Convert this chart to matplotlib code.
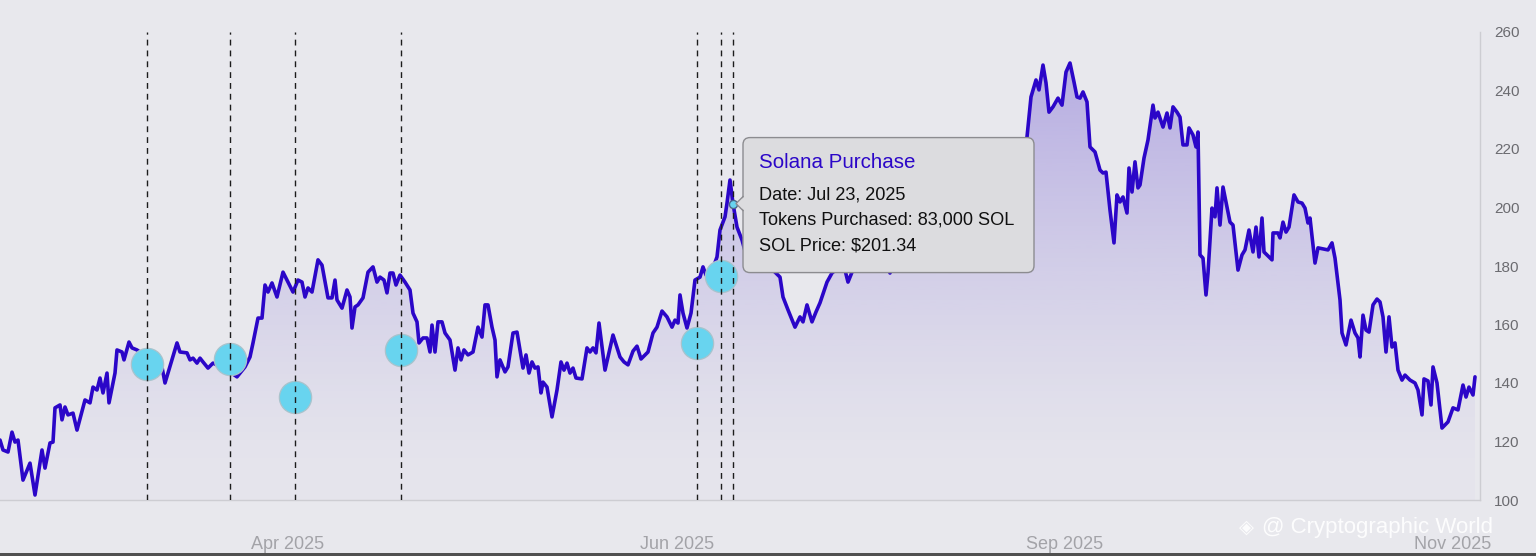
import numpy as np
import matplotlib
matplotlib.use("Agg")
import matplotlib.pyplot as plt
from matplotlib.patches import Polygon, FancyBboxPatch, Rectangle
from matplotlib.lines import Line2D
from matplotlib.transforms import Affine2D

# ---------------- data ----------------
# time position along the x axis (relative units) and SOL price (USD)
t = [0, 3, 8, 12, 15, 18, 23, 30, 35, 42, 45, 50, 53, 55, 60, 62, 65, 68, 73, 77,
     85, 90, 93, 97, 100, 103, 107, 109, 115, 117, 122, 124, 129, 132, 137, 140, 147, 155, 161, 165,
     177, 180, 187, 190, 193, 197, 200, 203, 208, 213, 217, 222, 230, 237, 245, 250, 253, 258, 262, 265,
     268, 272, 277, 283, 288, 293, 298, 302, 305, 308, 312, 318, 322, 328, 332, 335, 337, 342, 347, 350,
     352, 355, 358, 363, 368, 373, 377, 380, 384, 387, 390, 393, 396, 400, 405, 410, 413, 417, 419, 423,
     427, 430, 432, 435, 438, 442, 445, 450, 455, 458, 461, 464, 468, 473, 478, 482, 485, 488, 492, 495,
     497, 500, 505, 508, 513, 517, 523, 526, 529, 532, 535, 538, 541, 543, 547, 552, 557, 561, 564, 567,
     570, 573, 576, 582, 587, 590, 593, 596, 599, 605, 613, 620, 624, 628, 633, 637, 641, 645, 648, 653,
     657, 662, 667, 672, 675, 678, 680, 683, 687, 691, 695, 700, 703, 706, 710, 713, 717, 720, 725, 727,
     730, 733, 737, 742, 748, 755, 760, 765, 770, 775, 780, 783, 788, 795, 800, 803, 807, 812, 816, 820,
     827, 832, 838, 845, 848, 852, 858, 865, 872, 878, 884, 890, 895, 900, 906, 912, 918, 924, 930, 936,
     942, 948, 954, 960, 966, 972, 978, 984, 990, 996, 1002, 1008, 1014, 1020, 1027, 1031, 1036, 1039, 1043, 1046,
     1049, 1053, 1058, 1062, 1066, 1070, 1074, 1077, 1080, 1083, 1087, 1090, 1095, 1100, 1103, 1106, 1110, 1114, 1117, 1120,
     1123, 1127, 1129, 1132, 1135, 1138, 1140, 1144, 1148, 1153, 1155, 1158, 1163, 1167, 1170, 1173, 1177, 1180, 1183, 1187,
     1189, 1193, 1196, 1198, 1200, 1203, 1206, 1208, 1212, 1215, 1217, 1220, 1223, 1227, 1230, 1233, 1238, 1242, 1245, 1249,
     1253, 1256, 1259, 1262, 1264, 1272, 1273, 1278, 1280, 1283, 1286, 1289, 1294, 1298, 1302, 1305, 1308, 1310, 1315, 1318,
     1328, 1332, 1335, 1340, 1342, 1346, 1351, 1355, 1358, 1360, 1363, 1366, 1369, 1373, 1377, 1380, 1383, 1386, 1389, 1392,
     1395, 1398, 1402, 1405, 1410, 1415, 1418, 1422, 1424, 1428, 1431, 1433, 1437, 1442, 1448, 1453, 1458, 1463, 1466, 1469,
     1473, 1475]
price = [120.5, 117.1, 116.4, 123.2, 119.8, 120.5, 106.8, 112.6, 101.7, 117.1, 110.9, 119.5, 119.8, 131.5, 132.5, 127.4, 131.8, 129.1, 129.7, 123.9,
         134.2, 133.2, 138.6, 137.6, 141.7, 136.6, 143.4, 133.2, 143.4, 151.3, 150.6, 147.9, 154.0, 152.0, 151.3, 150.6, 147.9, 147.2, 147.2, 140.0,
         153.7, 150.6, 150.3, 147.9, 148.5, 146.8, 148.5, 147.2, 145.1, 146.8, 146.2, 144.4, 143.8, 142.1, 145.5, 148.9, 153.7, 162.2, 162.2, 173.5,
         171.1, 174.2, 169.4, 177.9, 174.5, 171.1, 175.2, 174.5, 169.4, 172.5, 171.1, 182.1, 180.3, 169.1, 169.1, 175.2, 168.4, 165.6, 171.8, 169.4,
         158.8, 166.0, 166.7, 169.1, 177.9, 179.7, 174.5, 176.2, 175.2, 170.8, 177.6, 177.6, 173.5, 176.9, 174.5, 171.8, 163.9, 160.9, 153.7, 155.4,
         155.4, 150.6, 159.8, 150.6, 160.9, 160.9, 157.1, 154.7, 144.4, 152.0, 147.9, 151.3, 149.6, 150.6, 159.1, 155.7, 166.7, 166.7, 159.1, 154.7,
         142.1, 147.9, 143.8, 145.5, 157.1, 157.4, 145.1, 149.6, 143.4, 147.2, 145.1, 145.5, 136.6, 140.3, 138.6, 128.4, 137.6, 147.2, 144.4, 146.8,
         143.4, 145.1, 141.7, 141.4, 152.0, 150.6, 152.0, 150.3, 160.5, 144.4, 156.4, 148.9, 147.2, 146.2, 150.9, 152.6, 148.2, 149.6, 150.6, 157.1,
         159.1, 164.6, 162.6, 159.1, 161.5, 160.5, 170.1, 163.9, 158.8, 163.9, 175.2, 176.2, 179.7, 176.9, 178.6, 179.3, 183.1, 192.3, 196.8, 201.5,
         209.4, 201.34, 193.3, 188.9, 181.4, 182.7, 180.0, 181.4, 179.3, 177.9, 176.2, 169.4, 165.0, 159.1, 162.6, 160.9, 166.7, 160.9, 164.3, 167.4,
         174.5, 177.6, 179.3, 178.6, 174.5, 177.9, 181.4, 183.8, 182.1, 185.5, 182.7, 177.6, 183.8, 188.9, 192.3, 197.4, 195.0, 200.9, 194.0, 189.6,
         193.0, 188.9, 191.6, 195.7, 194.0, 198.5, 196.4, 200.9, 199.1, 202.6, 204.3, 207.7, 212.8, 217.9, 224.1, 237.8, 243.6, 240.2, 248.7, 242.6,
         232.6, 234.4, 237.4, 235.0, 246.3, 249.4, 242.9, 237.8, 237.4, 239.5, 236.1, 220.7, 219.0, 212.8, 211.8, 212.1, 199.1, 187.9, 204.3, 201.9,
         203.6, 198.1, 213.5, 205.3, 215.6, 206.7, 207.7, 216.9, 223.1, 235.0, 230.6, 232.6, 227.5, 232.3, 227.2, 234.4, 232.6, 230.9, 221.4, 221.4,
         227.2, 224.8, 220.7, 225.8, 183.8, 182.7, 170.1, 177.6, 199.8, 196.8, 206.7, 194.0, 207.0, 200.2, 195.0, 194.0, 178.6, 183.8, 185.5, 192.3,
         184.8, 193.3, 183.1, 196.4, 184.8, 182.1, 191.3, 191.3, 189.6, 195.0, 191.6, 193.3, 204.3, 201.9, 201.5, 199.8, 194.7, 196.4, 181.0, 186.2,
         185.5, 187.9, 182.7, 168.4, 157.1, 153.0, 161.5, 157.1, 155.4, 148.9, 163.2, 158.1, 157.4, 166.7, 168.7, 167.7, 162.6, 150.6, 162.6, 152.3,
         153.7, 144.4, 141.0, 142.7, 141.0, 140.0, 137.6, 129.1, 141.4, 140.7, 132.5, 145.5, 140.0, 124.6, 126.7, 131.5, 130.8, 139.3, 135.2, 138.6,
         135.9, 142.1]

purchase_t = [147, 230, 295, 401, 697, 721]
purchase_marker = [146.5, 148.2, 135.2, 151.3, 153.7, 176.6]
hover_t = 733
hover_price = 201.34

xtick_pos = [288, 677, 1065, 1453]
xtick_labels = ["Apr 2025", "Jun 2025", "Sep 2025", "Nov 2025"]
yticks = [100, 120, 140, 160, 180, 200, 220, 240, 260]

tooltip_title = "Solana Purchase"
tooltip_lines = ["Date: Jul 23, 2025", "Tokens Purchased: 83,000 SOL", "SOL Price: $201.34"]

# ---------------- styling ----------------
W, H = 1536, 556
BG = "#e8e8ed"
LINE = "#2b06c8"
FONT = "Liberation Sans"

fig = plt.figure(figsize=(W / 100, H / 100), dpi=100, facecolor=BG)
ax = fig.add_axes([0, 56 / H, 1480 / W, 468 / H])
ax.set_facecolor(BG)
ax.set_xlim(0, 1480)
ax.set_ylim(100, 260)

# gradient fill below the line
ny = 400
vv = np.linspace(100, 260, ny)
alpha = 0.02 + 0.36 * np.clip((vv - 110) / 150, 0, 1) ** 1.3
img = np.zeros((ny, 1, 4))
img[..., 0] = 88 / 255
img[..., 1] = 60 / 255
img[..., 2] = 205 / 255
img[..., 3] = alpha[:, None]
im = ax.imshow(img, extent=[0, 1480, 100, 260], origin="lower", aspect="auto",
               interpolation="bilinear", zorder=1)
verts = [(t[0], 100)] + list(zip(t, price)) + [(t[-1], 100)]
clip_poly = Polygon(verts, closed=True, transform=ax.transData, facecolor="none", edgecolor="none")
ax.add_patch(clip_poly)
im.set_clip_path(clip_poly)

# price line
ax.plot(t, price, color=LINE, lw=2.6, solid_joinstyle="round", solid_capstyle="round", zorder=3)

# purchase markers
ax.scatter(purchase_t, purchase_marker, s=540, facecolor="#68d4ef", edgecolor="#a9c3cc",
           linewidth=0.9, zorder=4)
ax.scatter([hover_t], [hover_price], s=34, facecolor="#68d4ef", edgecolor="#4b6688",
           linewidth=1.0, zorder=6)

# vertical dashed purchase lines
for xv in purchase_t + [hover_t]:
    ax.axvline(xv, color="#1c1c1c", lw=1.0, ls=(0, (4.2, 3.6)), zorder=5)

# axes styling
for s in ["top", "left"]:
    ax.spines[s].set_visible(False)
for s in ["right", "bottom"]:
    ax.spines[s].set_color("#cdcdd2")
    ax.spines[s].set_linewidth(1.0)
ax.yaxis.tick_right()
ax.set_yticks(yticks)
ax.set_yticklabels([str(v) for v in yticks], fontsize=11, color="#6b6b70", family=FONT)
ax.set_xticks(xtick_pos)
ax.set_xticklabels(xtick_labels, fontsize=13, color="#a3a3a8", family=FONT)
ax.tick_params(axis="y", length=0, pad=10)
ax.tick_params(axis="x", length=0, pad=26)

# ---------------- tooltip ----------------
pxT = Affine2D().scale(1 / W, 1 / H) + fig.transFigure
disp = ax.transData.transform((hover_t, hover_price))
tip_x, tip_y = fig.transFigure.inverted().transform(disp) * np.array([W, H])
bx0 = tip_x + 10
bw, bh = 291, 135
by1 = tip_y + 66
by0 = by1 - bh
box = FancyBboxPatch((bx0, by0), bw, bh, boxstyle="round,pad=0,rounding_size=7",
                     transform=pxT, facecolor="#dcdcdf", edgecolor="#8c8c90", lw=1.0, zorder=10)
fig.add_artist(box)
ptr = Polygon([(bx0 + 1.5, tip_y + 7), (bx0 - 7, tip_y), (bx0 + 1.5, tip_y - 7)], closed=True,
              transform=pxT, facecolor="#dcdcdf", edgecolor="none", zorder=11)
fig.add_artist(ptr)
fig.add_artist(Line2D([bx0, bx0 - 7, bx0], [tip_y + 7, tip_y, tip_y - 7], transform=pxT,
                      color="#8c8c90", lw=1.0, zorder=12))
fig.text(bx0 + 16, by1 - 25, tooltip_title, transform=pxT, fontsize=14.8, color=LINE,
         family=FONT, va="center", ha="left", zorder=13)
for i, s in enumerate(tooltip_lines):
    fig.text(bx0 + 16, by1 - 57 - i * 25.5, s, transform=pxT, fontsize=13.1, color="#101010",
             family=FONT, va="center", ha="left", zorder=13)

# watermark
fig.text(1262, 29, "@ Cryptographic World", transform=pxT, fontsize=16, color="white",
         alpha=0.9, family=FONT, va="center", ha="left", zorder=20)
fig.text(1246, 29, "\u25c8", transform=pxT, fontsize=14, color="white", alpha=0.9,
         family="DejaVu Sans", va="center", ha="center", zorder=20)

# bottom dark strip
fig.add_artist(Rectangle((0, 0), W, 3, transform=pxT, facecolor="#505050", edgecolor="none", zorder=30))

fig.savefig("out.png", dpi=100, facecolor=BG)
